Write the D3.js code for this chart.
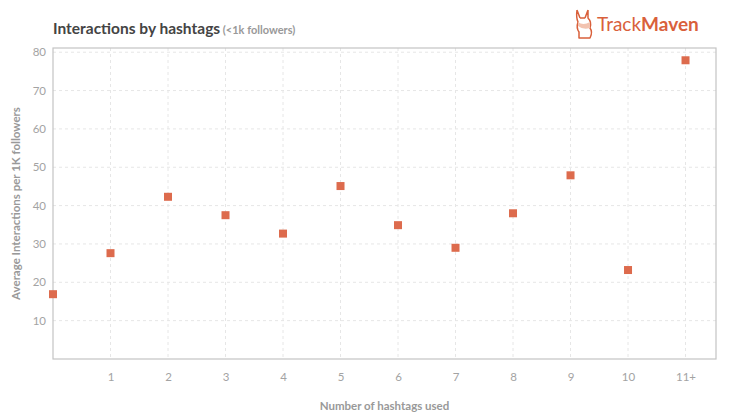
<!DOCTYPE html>
<html>
<head>
<meta charset="utf-8">
<script src="https://d3js.org/d3.v7.min.js"></script>
<style>
  body { margin: 0; background: #fff; }
  text { font-family: Lato, "Open Sans", sans-serif; }
  .tick text { fill: #a3a3a3; font-size: 11.5px; }
  .grid line { stroke: #e6e6e6; stroke-dasharray: 3 3; }
</style>
</head>
<body>
<script>
// data
const hashtags = ["0", "1", "2", "3", "4", "5", "6", "7", "8", "9", "10", "11+"];
const interactions = [16.9, 27.6, 42.3, 37.5, 32.7, 45.1, 34.9, 29.0, 38.0, 47.9, 23.2, 77.9];
const yTicks = [10, 20, 30, 40, 50, 60, 70, 80];
const xTicks = [1, 2, 3, 4, 5, 6, 7, 8, 9, 10, 11];

const W = 730, H = 420;
const m = {left: 53, right: 14, top: 48, bottom: 61};

const svg = d3.select("body").append("svg")
  .attr("width", W).attr("height", H);

const x = d3.scaleLinear().domain([0, 11.53]).range([m.left, W - m.right]);
const y = d3.scaleLinear().domain([0, 81.1]).range([H - m.bottom, m.top]);

// grid
svg.append("g").attr("class", "grid")
  .selectAll("line").data(yTicks).join("line")
  .attr("x1", m.left).attr("x2", W - m.right)
  .attr("y1", d => y(d)).attr("y2", d => y(d));
svg.append("g").attr("class", "grid")
  .selectAll("line").data(xTicks).join("line")
  .attr("x1", d => x(d)).attr("x2", d => x(d))
  .attr("y1", m.top).attr("y2", H - m.bottom);

// frame
svg.append("rect")
  .attr("x", m.left).attr("y", m.top)
  .attr("width", W - m.right - m.left).attr("height", H - m.bottom - m.top)
  .attr("fill", "none").attr("stroke", "#c4c4c4").attr("stroke-width", 1.2);

// axes
const yAxis = svg.append("g")
  .attr("transform", `translate(${m.left},0)`)
  .call(d3.axisLeft(y).tickValues(yTicks).tickSize(0).tickPadding(7));
yAxis.select(".domain").remove();

const xAxis = svg.append("g")
  .attr("transform", `translate(0,${H - m.bottom})`)
  .call(d3.axisBottom(x).tickValues(xTicks).tickSize(0).tickPadding(14)
    .tickFormat(d => hashtags[d]));
xAxis.select(".domain").remove();

// points
svg.append("g").selectAll("rect").data(interactions).join("rect")
  .attr("x", (d, i) => x(i) - 4)
  .attr("y", d => y(d) - 4)
  .attr("width", 8).attr("height", 8)
  .attr("fill", "#dd6b4d");

// titles
const title = svg.append("text")
  .attr("x", m.left).attr("y", 34)
  .attr("fill", "#444").attr("font-size", 15.5).attr("font-weight", 700);
title.append("tspan").text("Interactions by hashtags");
title.append("tspan").text(" (<1k followers)")
  .attr("fill", "#999").attr("font-size", 11);

svg.append("text")
  .attr("transform", `translate(20,${(m.top + H - m.bottom) / 2}) rotate(-90)`)
  .attr("text-anchor", "middle")
  .attr("fill", "#999").attr("font-size", 11.5).attr("font-weight", 700)
  .text("Average Interactions per 1K followers");

svg.append("text")
  .attr("x", (m.left + W - m.right) / 2).attr("y", 410)
  .attr("text-anchor", "middle")
  .attr("fill", "#999").attr("font-size", 11.5).attr("font-weight", 700)
  .text("Number of hashtags used");

// logo
const logo = svg.append("g").attr("transform", "translate(574,8)");
logo.append("path")
  .attr("d", "M3,2 L6,10 M14,2 L11,10 M3,2 Q2,10 4,14 Q2,20 5,24 L5,30 L16,30 Q19,24 16,20 Q18,14 14,10 L14,2 M6,10 L11,10")
  .attr("fill", "none").attr("stroke", "#d9603b").attr("stroke-width", 1.5)
  .attr("stroke-linejoin", "round");
logo.append("path")
  .attr("d", "M4,14 Q9,18 16,14 L16,20 Q9,22 4,18 Z")
  .attr("fill", "#f2c3b0").attr("stroke", "none");
const brand = svg.append("text")
  .attr("x", 597).attr("y", 31)
  .attr("fill", "#d9603b").attr("font-size", 19);
brand.append("tspan").text("Track");
brand.append("tspan").text("Maven").attr("font-weight", 700);
</script>
</body>
</html>
